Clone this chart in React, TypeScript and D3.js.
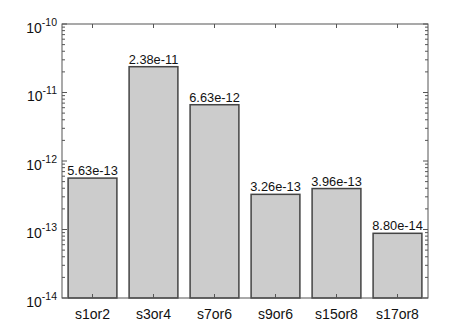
import React from "react";
import * as d3 from "d3";

const categories = ["s1or2", "s3or4", "s7or6", "s9or6", "s15or8", "s17or8"];
const values = [5.63e-13, 2.38e-11, 6.63e-12, 3.26e-13, 3.96e-13, 8.8e-14];
const labels = ["5.63e-13", "2.38e-11", "6.63e-12", "3.26e-13", "3.96e-13", "8.80e-14"];
const yExponents = [-14, -13, -12, -11, -10];

const W = 474, H = 334;
const L = 62, R = 428, T = 24, B = 298;

export default function App() {
  const x = d3.scaleBand<string>().domain(categories).range([L, R]).paddingInner(0.2).paddingOuter(0.1);
  const y = d3.scaleLog().domain([1e-14, 1e-10]).range([B, T]);
  const minor: number[] = [];
  for (let e = -14; e < -10; e++) for (let k = 2; k <= 9; k++) minor.push(k * Math.pow(10, e));
  const font = "'Liberation Sans', Arial, sans-serif";
  const axisCol = "#555";
  return (
    <svg width={W} height={H} style={{ position: "absolute", left: 0, top: 0 }} fontFamily={font}>
      <rect x={0} y={0} width={W} height={H} fill="#fff" />
      {categories.map((c, i) => {
        const x0 = x(c)!;
        return (
          <g key={c}>
            <rect x={x0} y={y(values[i])} width={x.bandwidth()} height={B - y(values[i])} fill="#cccccc" stroke="#444" strokeWidth={1.5} />
            <text x={x0 + x.bandwidth() / 2} y={y(values[i]) - 3} textAnchor="middle" fontSize={12.8} fill="#111">{labels[i]}</text>
            <text x={x0 + x.bandwidth() / 2} y={319} textAnchor="middle" fontSize={14} fill="#111">{c}</text>
          </g>
        );
      })}
      <rect x={L} y={T} width={R - L} height={B - T} fill="none" stroke={axisCol} strokeWidth={1} />
      {categories.map((c) => {
        const cx = x(c)! + x.bandwidth() / 2;
        return (
          <g key={"t" + c} stroke={axisCol}>
            <line x1={cx} x2={cx} y1={B} y2={B - 4} />
            <line x1={cx} x2={cx} y1={T} y2={T + 4} />
          </g>
        );
      })}
      {yExponents.map((e) => {
        const yy = y(Math.pow(10, e));
        return (
          <g key={"y" + e}>
            <line x1={L} x2={L + 5} y1={yy} y2={yy} stroke={axisCol} />
            <line x1={R} x2={R - 5} y1={yy} y2={yy} stroke={axisCol} />
            <text x={57} y={yy + 8.5} textAnchor="end" fontSize={14} fill="#111">
              10<tspan dy={-7} fontSize={10.5}>{String(e)}</tspan>
            </text>
          </g>
        );
      })}
      {minor.map((v, i) => (
        <g key={"m" + i} stroke={axisCol}>
          <line x1={L} x2={L + 3} y1={y(v)} y2={y(v)} />
          <line x1={R} x2={R - 3} y1={y(v)} y2={y(v)} />
        </g>
      ))}
    </svg>
  );
}
